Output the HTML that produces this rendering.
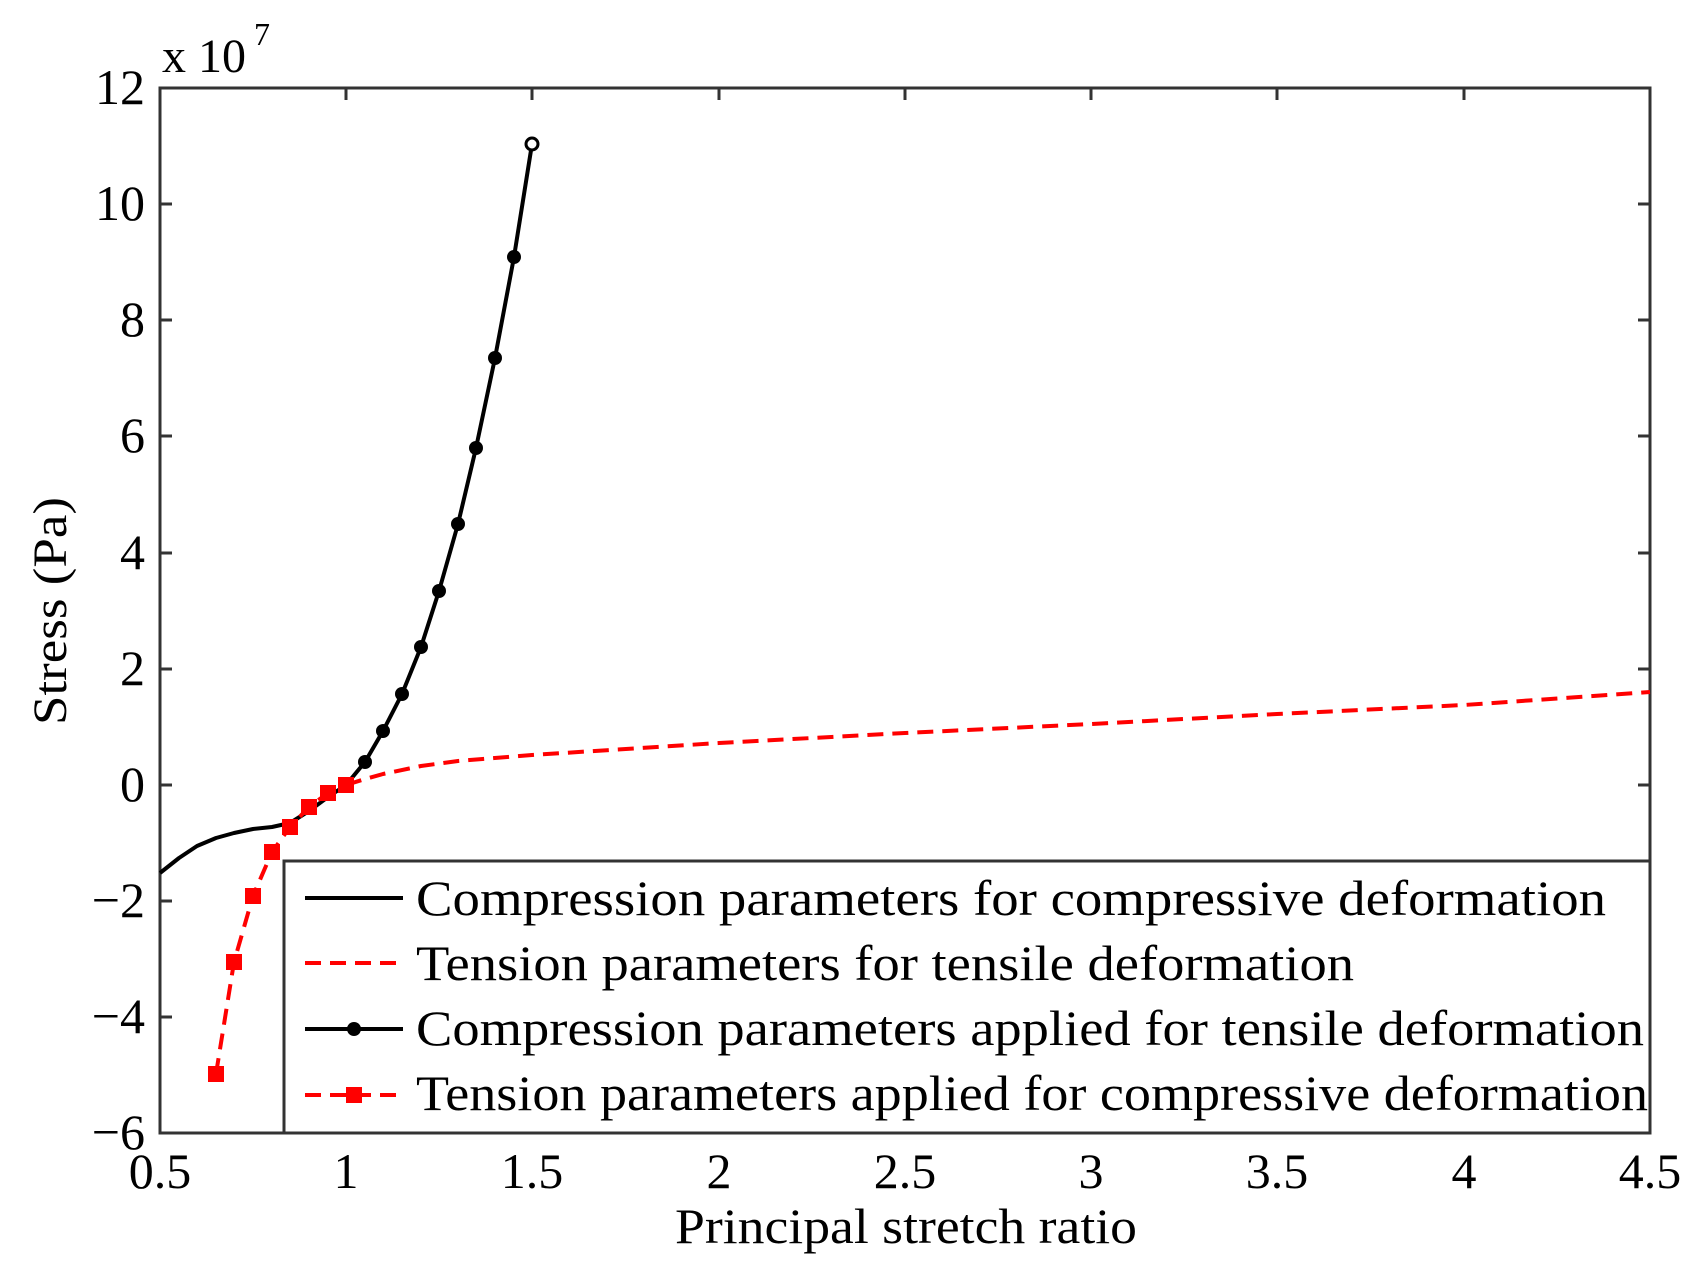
<!DOCTYPE html>
<html><head><meta charset="utf-8"><style>html,body{margin:0;padding:0;background:#fff}svg{display:block}</style></head>
<body>
<svg width="1700" height="1272" viewBox="0 0 1700 1272" xmlns="http://www.w3.org/2000/svg" font-family="'Liberation Serif', serif" fill="#000">
<g stroke="#333" stroke-width="3" fill="none">
<rect x="160" y="88" width="1490" height="1045"/>
<path d="M346,88v12M532,88v12M719,88v12M905,88v12M1091,88v12M1277,88v12M1464,88v12"/>
<path d="M346,1133v-12"/>
<path d="M160,204h12M160,320h12M160,436h12M160,553h12M160,669h12M160,785h12M160,901h12M160,1017h12"/>
<path d="M1650,204h-12M1650,320h-12M1650,436h-12M1650,553h-12M1650,669h-12M1650,785h-12"/>
</g>
<g font-size="50" text-anchor="end">
<text x="145" y="104">12</text><text x="145" y="220">10</text><text x="145" y="336">8</text><text x="145" y="452">6</text>
<text x="145" y="569">4</text><text x="145" y="685">2</text><text x="145" y="801">0</text>
<text x="145" y="917">−2</text><text x="145" y="1033">−4</text><text x="145" y="1149">−6</text>
</g>
<g font-size="50" text-anchor="middle">
<text x="160" y="1188">0.5</text><text x="346" y="1188">1</text><text x="532" y="1188">1.5</text><text x="719" y="1188">2</text>
<text x="905" y="1188">2.5</text><text x="1091" y="1188">3</text><text x="1277" y="1188">3.5</text><text x="1464" y="1188">4</text><text x="1650" y="1188">4.5</text>
</g>
<text x="162" y="72" font-size="48">x 10</text><text x="254" y="45" font-size="32">7</text>
<text x="906" y="1243" font-size="50" text-anchor="middle" textLength="462" lengthAdjust="spacingAndGlyphs">Principal stretch ratio</text>
<text transform="translate(66,611) rotate(-90)" font-size="48" text-anchor="middle" textLength="228" lengthAdjust="spacingAndGlyphs">Stress (Pa)</text>

<g fill="none" stroke-linejoin="round">
<polyline stroke="#000" stroke-width="4" points="160,873 179,858 197,846 216,838 234,833 253,829 272,827 290,823 309,811 328,797 346,785"/>
<polyline stroke="#000" stroke-width="4" points="346,785 365,762 383,731 402,694 421,647 439,591 458,524 476,448 495,358 514,257 532,144"/>
<polyline stroke="#f00" stroke-width="4" stroke-dasharray="16,9" points="346,785 365,779 383,774 421,766 458,761 532,755 719,743 905,733 1091,724 1277,714 1464,705 1650,692"/>
<polyline stroke="#f00" stroke-width="4" stroke-dasharray="16,9" points="216,1074 234,962 253,896 272,852 290,827 309,807 328,793 346,785"/>
</g>
<g fill="#000">
<circle cx="365" cy="762" r="7"/><circle cx="383" cy="731" r="7"/><circle cx="402" cy="694" r="7"/><circle cx="421" cy="647" r="7"/>
<circle cx="439" cy="591" r="7"/><circle cx="458" cy="524" r="7"/><circle cx="476" cy="448" r="7"/><circle cx="495" cy="358" r="7"/><circle cx="514" cy="257" r="7"/>
</g>
<circle cx="532" cy="144" r="6" fill="#fff" stroke="#000" stroke-width="3"/>
<g fill="#f00">
<rect x="208" y="1066" width="16" height="16"/><rect x="226" y="954" width="16" height="16"/><rect x="245" y="888" width="16" height="16"/>
<rect x="264" y="844" width="16" height="16"/><rect x="282" y="819" width="16" height="16"/><rect x="301" y="799" width="16" height="16"/>
<rect x="320" y="785" width="16" height="16"/><rect x="338" y="777" width="16" height="16"/>
</g>

<rect x="284" y="861" width="1366" height="272" fill="#fff" stroke="#333" stroke-width="3"/>
<g stroke-width="4">
<line x1="305" y1="898" x2="403" y2="898" stroke="#000"/>
<line x1="305" y1="963" x2="403" y2="963" stroke="#f00" stroke-dasharray="16,9"/>
<line x1="305" y1="1029" x2="403" y2="1029" stroke="#000"/>
<line x1="305" y1="1095" x2="403" y2="1095" stroke="#f00" stroke-dasharray="16,9"/>
</g>
<circle cx="354" cy="1029" r="7" fill="#000"/>
<rect x="346" y="1087" width="16" height="16" fill="#f00"/>
<g font-size="50">
<text x="416" y="915" textLength="1190" lengthAdjust="spacingAndGlyphs">Compression parameters for compressive deformation</text>
<text x="416" y="980" textLength="938" lengthAdjust="spacingAndGlyphs">Tension parameters for tensile deformation</text>
<text x="416" y="1045" textLength="1228" lengthAdjust="spacingAndGlyphs">Compression parameters applied for tensile deformation</text>
<text x="416" y="1110" textLength="1232" lengthAdjust="spacingAndGlyphs">Tension parameters applied for compressive deformation</text>
</g>
</svg>
</body></html>
